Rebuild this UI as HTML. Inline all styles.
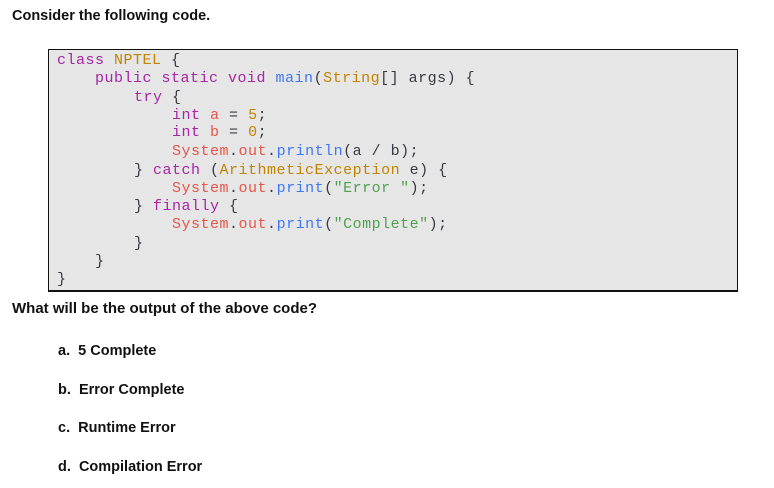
<!DOCTYPE html>
<html><head><meta charset="utf-8"><style>
body{margin:0;width:774px;height:488px;background:#fff;position:relative;overflow:hidden;font-family:"Liberation Sans",sans-serif}
.t{position:absolute;font-weight:bold;font-size:14.5px;color:#111;white-space:nowrap}
.box{position:absolute;left:48px;top:49px;width:688px;height:240px;background:#e6e6e6;border:1px solid #111;border-bottom:2px solid #111}
.c{position:absolute;font-family:"Liberation Mono",monospace;font-size:15px;letter-spacing:0.5px;color:#383a42;white-space:pre;line-height:16px}
.k{color:#a626a4}.o{color:#c18401}.r{color:#e45649}.b{color:#4078f2}.g{color:#50a14f}
</style></head><body>
<div class="t" style="left:12px;top:8px">Consider the following code.</div>
<div class="box"></div>
<div class="c" style="left:57px;top:53px"><span class="k">class</span> <span class="o">NPTEL</span> {</div>
<div class="c" style="left:95px;top:71px"><span class="k">public static void</span> <span class="b">main</span>(<span class="o">String</span>[] args) {</div>
<div class="c" style="left:134px;top:90px"><span class="k">try</span> {</div>
<div class="c" style="left:172px;top:108px"><span class="k">int</span> <span class="r">a</span> = <span class="o">5</span>;</div>
<div class="c" style="left:172px;top:125px"><span class="k">int</span> <span class="r">b</span> = <span class="o">0</span>;</div>
<div class="c" style="left:172px;top:144px"><span class="r">System</span>.<span class="r">out</span>.<span class="b">println</span>(a / b);</div>
<div class="c" style="left:134px;top:163px">} <span class="k">catch</span> (<span class="o">ArithmeticException</span> e) {</div>
<div class="c" style="left:172px;top:181px"><span class="r">System</span>.<span class="r">out</span>.<span class="b">print</span>(<span class="g">"Error "</span>);</div>
<div class="c" style="left:134px;top:199px">} <span class="k">finally</span> {</div>
<div class="c" style="left:172px;top:217px"><span class="r">System</span>.<span class="r">out</span>.<span class="b">print</span>(<span class="g">"Complete"</span>);</div>
<div class="c" style="left:134px;top:236px">}</div>
<div class="c" style="left:95px;top:254px">}</div>
<div class="c" style="left:57px;top:272px">}</div>
<div class="t" style="left:12px;top:300px;font-size:15px">What will be the output of the above code?</div>
<div class="t" style="left:58px;top:343px">a.&nbsp; 5 Complete</div>
<div class="t" style="left:58px;top:382px">b.&nbsp; Error Complete</div>
<div class="t" style="left:58px;top:420px">c.&nbsp; Runtime Error</div>
<div class="t" style="left:58px;top:459px">d.&nbsp; Compilation Error</div>
</body></html>
